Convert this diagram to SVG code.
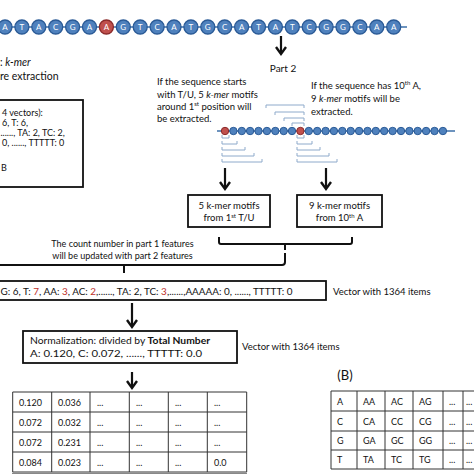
<svg xmlns="http://www.w3.org/2000/svg" xmlns:xlink="http://www.w3.org/1999/xlink" width="474" height="474" viewBox="0 0 474 474">
<style>
text{font-family:Lato,"Liberation Sans",sans-serif;fill:#111}
.t{font-size:9.5px}
.s{font-size:9px}
.bl{font-size:8px;fill:#fff;text-anchor:middle}
.box{fill:#fff;stroke:#111;stroke-width:1.8}
.arr{fill:none;stroke:#111;stroke-width:2.2}
.head{fill:none;stroke:#111;stroke-width:2.4}
.strand{stroke:#3d6fa8;stroke-width:1.6}
.br{fill:none;stroke:#8eaacb;stroke-width:1}
.brace{fill:none;stroke:#111;stroke-width:2}
.grid{fill:none;stroke:#333;stroke-width:1}
.red{fill:#c0302b}
</style>
<defs>
<circle id="bb" r="7" fill="#4f81bd" stroke="#2a5a96" stroke-width="1.3"/>
<circle id="br" r="7" fill="#c0504d" stroke="#8b2a2a" stroke-width="1.3"/>
<circle id="sb" r="3.7" fill="#4f81bd" stroke="#2a5a96" stroke-width="1"/>
<circle id="sr" r="3.7" fill="#c0504d" stroke="#8b2a2a" stroke-width="1"/>
</defs>
<rect width="474" height="474" fill="#fff"/>

<g id="strand1">
<line class="strand" x1="-2" y1="27" x2="407" y2="27"/>
<g>
<use xlink:href="#bb" x="5" y="27"/><use xlink:href="#bb" x="21.9" y="27"/><use xlink:href="#bb" x="38.8" y="27"/><use xlink:href="#bb" x="55.7" y="27"/><use xlink:href="#bb" x="72.6" y="27"/><use xlink:href="#bb" x="89.5" y="27"/><use xlink:href="#br" x="106.4" y="27"/><use xlink:href="#bb" x="123.3" y="27"/><use xlink:href="#bb" x="140.2" y="27"/><use xlink:href="#bb" x="157.1" y="27"/><use xlink:href="#bb" x="174" y="27"/><use xlink:href="#bb" x="190.9" y="27"/><use xlink:href="#bb" x="207.8" y="27"/><use xlink:href="#bb" x="224.7" y="27"/><use xlink:href="#bb" x="241.6" y="27"/><use xlink:href="#bb" x="258.5" y="27"/><use xlink:href="#bb" x="275.4" y="27"/><use xlink:href="#bb" x="292.3" y="27"/><use xlink:href="#bb" x="309.2" y="27"/><use xlink:href="#bb" x="326.1" y="27"/><use xlink:href="#bb" x="343" y="27"/><use xlink:href="#bb" x="359.9" y="27"/><use xlink:href="#bb" x="376.8" y="27"/><use xlink:href="#bb" x="393.7" y="27"/>
</g>
<g>
<text class="bl" x="5" y="30">A</text><text class="bl" x="21.9" y="30">T</text><text class="bl" x="38.8" y="30">A</text><text class="bl" x="55.7" y="30">C</text><text class="bl" x="72.6" y="30">G</text><text class="bl" x="89.5" y="30">A</text><text class="bl" x="106.4" y="30">A</text><text class="bl" x="123.3" y="30">G</text><text class="bl" x="140.2" y="30">T</text><text class="bl" x="157.1" y="30">C</text><text class="bl" x="174" y="30">A</text><text class="bl" x="190.9" y="30">T</text><text class="bl" x="207.8" y="30">G</text><text class="bl" x="224.7" y="30">C</text><text class="bl" x="241.6" y="30">A</text><text class="bl" x="258.5" y="30">T</text><text class="bl" x="275.4" y="30">A</text><text class="bl" x="292.3" y="30">T</text><text class="bl" x="309.2" y="30">C</text><text class="bl" x="326.1" y="30">G</text><text class="bl" x="343" y="30">G</text><text class="bl" x="359.9" y="30">C</text><text class="bl" x="376.8" y="30">A</text><text class="bl" x="393.7" y="30">A</text>
</g>
</g>

<g id="part1-label">
<text x="0" y="66" style="font-size:10.5px">: <tspan font-style="italic">k-mer</tspan></text>
<text x="0" y="80" style="font-size:10.5px">re extraction</text>
</g>

<g id="part2-label">
<text x="283" y="72" style="font-size:10px" text-anchor="middle">Part 2</text>
</g>

<g id="part1-box">
<rect class="box" x="-2" y="100" width="85" height="87"/>
<text class="s" x="2" y="116">4 vectors):</text>
<text class="s" x="2" y="126">6, T: 6,</text>
<text class="s" x="0.5" y="136">......, TA: 2, TC: 2,</text>
<text class="s" x="2" y="146">0, ......, TTTTT: 0</text>
<text class="s" x="1" y="170.5">B</text>
</g>

<g id="note-first">
<text class="t" x="157" y="85">If the sequence starts</text>
<text class="t" x="157" y="97.5">with T/U, 5 <tspan font-style="italic">k-mer</tspan> motifs</text>
<text class="t" x="157" y="109.5">around 1<tspan font-size="6" dy="-3.5">st</tspan><tspan dy="3.5"> position will</tspan></text>
<text class="t" x="157" y="121.5">be extracted.</text>
</g>

<g id="note-tenth">
<text class="t" x="311" y="88.5">If the sequence has 10<tspan font-size="6" dy="-3.5">th</tspan><tspan dy="3.5"> A,</tspan></text>
<text class="t" x="311" y="101.5">9 <tspan font-style="italic">k-mer</tspan> motifs will be</text>
<text class="t" x="311" y="114.5">extracted.</text>
</g>

<g id="strand2">
<line class="strand" x1="217" y1="131" x2="455" y2="131"/>
<use xlink:href="#sr" x="225" y="131"/><use xlink:href="#sb" x="233.4" y="131"/><use xlink:href="#sb" x="241.8" y="131"/><use xlink:href="#sb" x="250.1" y="131"/><use xlink:href="#sb" x="258.5" y="131"/><use xlink:href="#sb" x="266.9" y="131"/><use xlink:href="#sb" x="275.3" y="131"/><use xlink:href="#sb" x="283.7" y="131"/><use xlink:href="#sb" x="292" y="131"/><use xlink:href="#sr" x="300.4" y="131"/><use xlink:href="#sb" x="308.8" y="131"/><use xlink:href="#sb" x="317.2" y="131"/><use xlink:href="#sb" x="325.6" y="131"/><use xlink:href="#sb" x="333.9" y="131"/><use xlink:href="#sb" x="342.3" y="131"/><use xlink:href="#sb" x="350.7" y="131"/><use xlink:href="#sb" x="359.1" y="131"/><use xlink:href="#sb" x="367.5" y="131"/><use xlink:href="#sb" x="375.8" y="131"/><use xlink:href="#sb" x="384.2" y="131"/><use xlink:href="#sb" x="392.6" y="131"/><use xlink:href="#sb" x="401" y="131"/><use xlink:href="#sb" x="409.4" y="131"/><use xlink:href="#sb" x="417.7" y="131"/><use xlink:href="#sb" x="426.1" y="131"/><use xlink:href="#sb" x="434.5" y="131"/><use xlink:href="#sb" x="442.9" y="131"/>
<g id="motif-brackets">
<path class="br" d="M266 108V105H304V108M275 115V112H304V115M284 121V118H304V121M292 126V123H304V126"/>
<path class="br" d="M297 135V138H304V135M297 141V144H312V141M297 147V150H320V147M297 153V156H329V153M297 159V162H337V159"/>
<path class="br" d="M222 135V138H229V135M222 141V144H237V141M222 147V150H245V147M222 153V156H254V153M222 159V162H262V159"/>
</g>
</g>

<g id="box-first">
<rect class="box" x="188" y="195" width="82" height="32"/>
<text class="t" x="229" y="208.5" text-anchor="middle">5 k-mer motifs</text>
<text class="t" x="229" y="221" text-anchor="middle">from 1<tspan font-size="6" dy="-3.5">st</tspan><tspan dy="3.5"> T/U</tspan></text>
</g>

<g id="box-tenth">
<rect class="box" x="297" y="195" width="85" height="32"/>
<text class="t" x="339.5" y="208.5" text-anchor="middle">9 k-mer motifs</text>
<text class="t" x="339.5" y="221" text-anchor="middle">from 10<tspan font-size="6" dy="-3.5">th</tspan><tspan dy="3.5"> A</tspan></text>
</g>

<g id="update-note">
<text class="s" x="122.5" y="246.5" text-anchor="middle">The count number in part 1 features</text>
<text class="s" x="122.5" y="259" text-anchor="middle">will be updated with part 2 features</text>
</g>

<g id="vector-box">
<rect class="box" x="-2" y="281" width="328" height="19"/>
<text class="t" x="0.5" y="294.5" textLength="292" lengthAdjust="spacingAndGlyphs">G: 6, T: <tspan class="red">7</tspan>, AA: <tspan class="red">3</tspan>, AC: <tspan class="red">2</tspan>,......, TA: 2, TC: <tspan class="red">3</tspan>,......,AAAAA: 0, ......, TTTTT: 0</text>
</g>
<g id="vector-label-1">
<text class="t" x="333" y="294.5">Vector with 1364 items</text>
</g>

<g id="norm-box">
<rect class="box" x="23" y="331" width="214" height="32"/>
<text x="30" y="344" style="font-size:10px" textLength="180" lengthAdjust="spacingAndGlyphs">Normalization: divided by <tspan font-weight="bold">Total Number</tspan></text>
<text x="30" y="357" style="font-size:10.3px" textLength="172" lengthAdjust="spacingAndGlyphs">A: 0.120, C: 0.072, ......, TTTTT: 0.0</text>
</g>
<g id="vector-label-2">
<text class="t" x="242" y="349.5">Vector with 1364 items</text>
</g>

<g id="label-B">
<text x="345" y="380" style="font-size:13px" text-anchor="middle">(B)</text>
</g>

<g id="table-values">
<path class="grid" d="M12.7 392H246.7M12.7 412H246.7M12.7 432H246.7M12.7 452H246.7M12.7 472H246.7M12.7 392V472M51.7 392V472M90 392V472M129.3 392V472M168.3 392V472M207.3 392V472M246.7 392V472"/>
<line x1="12" y1="473.5" x2="247" y2="473.5" stroke="#888" stroke-width="1.5"/>
<g class="s">
<text x="19" y="405.5">0.120</text><text x="58" y="405.5">0.036</text><text x="97" y="405.5">...</text><text x="136" y="405.5">...</text><text x="175" y="405.5">...</text><text x="214" y="405.5">...</text>
<text x="19" y="425.5">0.072</text><text x="58" y="425.5">0.032</text><text x="97" y="425.5">...</text><text x="136" y="425.5">...</text><text x="175" y="425.5">...</text><text x="214" y="425.5">...</text>
<text x="19" y="445.5">0.072</text><text x="58" y="445.5">0.231</text><text x="97" y="445.5">...</text><text x="136" y="445.5">...</text><text x="175" y="445.5">...</text><text x="214" y="445.5">...</text>
<text x="19" y="465.5">0.084</text><text x="58" y="465.5">0.023</text><text x="97" y="465.5">...</text><text x="136" y="465.5">...</text><text x="175" y="465.5">...</text><text x="214" y="465.5">0.0</text>
</g>
</g>

<g id="table-kmers">
<path class="grid" d="M331 391H480M331 411H480M331 431H480M331 450H480M331 469H480M331 391V469M357 391V469M385 391V469M413 391V469M443 391V469M463 391V469"/>
<g class="s">
<text x="337" y="404.5">A</text><text x="363" y="404.5">AA</text><text x="391" y="404.5">AC</text><text x="419" y="404.5">AG</text><text x="449" y="404.5">...</text><text x="466" y="404.5">...</text>
<text x="337" y="424.5">C</text><text x="363" y="424.5">CA</text><text x="391" y="424.5">CC</text><text x="419" y="424.5">CG</text><text x="449" y="424.5">...</text><text x="466" y="424.5">...</text>
<text x="337" y="444">G</text><text x="363" y="444">GA</text><text x="391" y="444">GC</text><text x="419" y="444">GG</text><text x="449" y="444">...</text><text x="466" y="444">...</text>
<text x="337" y="463">T</text><text x="363" y="463">TA</text><text x="391" y="463">TC</text><text x="419" y="463">TG</text><text x="449" y="463">...</text><text x="466" y="463">...</text>
</g>
</g>

<g id="connectors">
<path class="arr" d="M281 36V53"/><path class="head" d="M276 47L281 54L286 47"/>
<path class="arr" d="M225 168V188"/><path class="head" d="M220 182L225 189L230 182"/>
<path class="arr" d="M326 168V188"/><path class="head" d="M321 182L326 189L331 182"/>
<path class="brace" d="M219 237V242Q219 244 221 244H350Q352 244 352 242V237M285 244V250"/>
<path class="brace" d="M285 253V262Q285 265 282 265H-2M124 265V273"/>
<path class="arr" d="M132 303V326"/><path class="head" d="M127 320L132 327L137 320"/>
<path class="arr" d="M132 372V387"/><path class="head" d="M127 381L132 388L137 381"/>
</g>
</svg>
